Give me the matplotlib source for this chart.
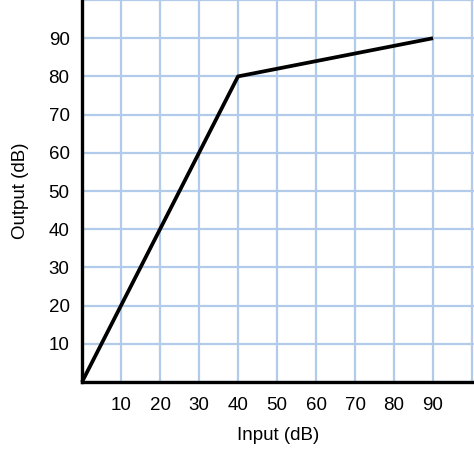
import numpy as np
import matplotlib.pyplot as plt

plt.rcParams['font.family'] = ['Liberation Sans', 'DejaVu Sans']

# input/output curve (dB)
input_db = [0, 40, 90]
output_db = [0, 80, 90]

tick_vals = list(range(0, 101, 10))
tick_labels = ['' if v in (0, 100) else str(v) for v in tick_vals]

fig = plt.figure(figsize=(4.74, 4.57), dpi=100)
ax = fig.add_axes([82/474, 1 - 382/457, (474 - 82)/474, 382/457])

ax.plot(input_db, output_db, color='black', lw=2.7, solid_capstyle='butt',
        zorder=3, clip_on=False)

ax.set_xlim(0, 100.5)
ax.set_ylim(0, 100)
ax.set_xticks(tick_vals)
ax.set_xticklabels(tick_labels)
ax.set_yticks(tick_vals)
ax.set_yticklabels(tick_labels)
ax.tick_params(length=0, labelsize=13.5, pad=11)
ax.tick_params(axis='y', pad=9)

ax.grid(True, color='#b3cbea', lw=1.6)
ax.set_axisbelow(True)

for s in ['top', 'right']:
    ax.spines[s].set_visible(False)
for s in ['left', 'bottom']:
    ax.spines[s].set_linewidth(2.4)
    ax.spines[s].set_color('black')
    ax.spines[s].set_zorder(4)

ax.set_xlabel('Input (dB)', fontsize=13.5, labelpad=9)
ax.set_ylabel('Output (dB)', fontsize=13.5, labelpad=14)

fig.savefig('out.png', dpi=100)
